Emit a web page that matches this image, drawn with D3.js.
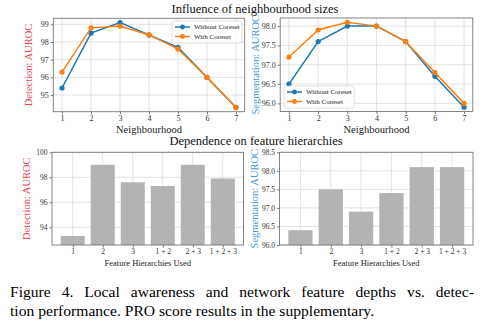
<!DOCTYPE html>
<html><head><meta charset="utf-8">
<script src="https://cdn.jsdelivr.net/npm/d3@7"></script>
<style>body{margin:0;background:#fff}svg{display:block}text{font-family:"Liberation Serif","DejaVu Serif",serif}</style>
</head><body><svg id="c" width="498" height="334"></svg>
<script>
const neighbourhoods = [1,2,3,4,5,6,7];
const detWithout = [95.4,98.5,99.1,98.4,97.7,96.0,94.3];
const detWith    = [96.3,98.8,98.9,98.4,97.6,96.0,94.3];
const segWithout = [96.5,97.6,98.0,98.0,97.6,96.7,95.9];
const segWith    = [97.2,97.9,98.1,98.0,97.6,96.8,96.0];
const hierarchies = ["1","2","3","1 + 2","2 + 3","1 + 2 + 3"];
const detBars = [93.3,99.0,97.6,97.3,99.0,97.9];
const segBars = [96.4,97.5,96.9,97.4,98.1,98.1];
const detLineTicks = [95,96,97,98,99];
const segLineTicks = [96.0,96.5,97.0,97.5,98.0];
const detBarTicks = [94,96,98,100];
const segBarTicks = [96.0,96.5,97.0,97.5,98.0,98.5];
const seriesNames = ["Without Coreset","With Coreset"];

const BLUE="#1f77b4", ORANGE="#ff7f0e", RED="#e8474f", LBLUE="#4a98d3";
const svg = d3.select("#c");

function frame(g, x, y, xt, yt){
  const [x0,x1]=x.range(), [y1,y0]=y.range();
  g.selectAll(".gx").data(xt).join("line").attr("x1",d=>x(d)).attr("x2",d=>x(d)).attr("y1",y0).attr("y2",y1).attr("stroke","#dcdcdc").attr("stroke-width",0.8);
  g.selectAll(".gy").data(yt).join("line").attr("y1",d=>y(d)).attr("y2",d=>y(d)).attr("x1",x0).attr("x2",x1).attr("stroke","#dcdcdc").attr("stroke-width",0.8);
}
function axes(g, x, y, xt, yt, fmtY, xLabels, fs){
  const [x0,x1]=x.range(), [y1,y0]=y.range();
  g.append("rect").attr("x",x0).attr("y",y0).attr("width",x1-x0).attr("height",y1-y0).attr("fill","none").attr("stroke","#777").attr("stroke-width",0.9);
  const ax = d3.axisBottom(x).tickValues(xt).tickSize(2.5).tickPadding(1.5).tickSizeOuter(0).tickFormat((d,i)=>xLabels?xLabels[i]:d);
  const gx = g.append("g").attr("transform",`translate(0,${y1})`).call(ax);
  const ay = d3.axisLeft(y).tickValues(yt).tickSize(2.5).tickPadding(2).tickSizeOuter(0).tickFormat(fmtY);
  const gy = g.append("g").attr("transform",`translate(${x0},0)`).call(ay);
  [gx,gy].forEach(a=>{a.select(".domain").remove();a.selectAll("line").attr("stroke","#777");a.selectAll("text").attr("fill","#333").style("font-size",fs+"px").style("font-family","Liberation Serif, serif");});
}

function lineChart(left,right,top,bottom,aW,aWi,ticks,fmt,ylabel,ycol,legendPos){
  const g = svg.append("g");
  const x = d3.scaleLinear().domain([0.7,7.3]).range([left,right]);
  const all = aW.concat(aWi); const mn=d3.min(all), mx=d3.max(all), m=(mx-mn)*0.05;
  const y = d3.scaleLinear().domain([mn-m,mx+m]).range([bottom,top]);
  frame(g,x,y,neighbourhoods,ticks);
  [[aW,BLUE],[aWi,ORANGE]].forEach(([vals,c])=>{
    const line=d3.line().x((d,i)=>x(neighbourhoods[i])).y(d=>y(d));
    g.append("path").attr("d",line(vals)).attr("fill","none").attr("stroke",c).attr("stroke-width",1.5);
    g.selectAll(null).data(vals).join("circle").attr("cx",(d,i)=>x(neighbourhoods[i])).attr("cy",d=>y(d)).attr("r",2.6).attr("fill",c);
  });
  axes(g,x,y,neighbourhoods,ticks,fmt,null,8);
  g.append("text").attr("x",(left+right)/2).attr("y",bottom+21).attr("text-anchor","middle").style("font-size","10.5px").attr("fill","#222").text("Neighbourhood");
  g.append("text").attr("transform",`translate(${left-21},${(top+bottom)/2}) rotate(-90)`).attr("text-anchor","middle").style("font-size","10.5px").attr("fill",ycol).text(ylabel);
  const [lx,ly]=legendPos;
  const lg=g.append("g").attr("transform",`translate(${lx},${ly})`);
  lg.append("rect").attr("width",70).attr("height",22).attr("rx",2).attr("fill","#fff").attr("fill-opacity",0.85).attr("stroke","#ccc").attr("stroke-width",0.6);
  seriesNames.forEach((n,i)=>{
    const c=i?ORANGE:BLUE, yy=6+i*9.5;
    lg.append("line").attr("x1",3).attr("x2",18).attr("y1",yy).attr("y2",yy).attr("stroke",c).attr("stroke-width",1.5);
    lg.append("circle").attr("cx",10.5).attr("cy",yy).attr("r",2.4).attr("fill",c);
    lg.append("text").attr("x",22).attr("y",yy).attr("dy","0.33em").style("font-size","7px").attr("fill","#222").text(n);
  });
}

function barChart(left,right,top,bottom,vals,dom,ticks,fmt,ylabel,ycol){
  const g = svg.append("g");
  const idx = hierarchies.map((d,i)=>i);
  const x = d3.scaleLinear().domain([-0.69,5.69]).range([left,right]);
  const y = d3.scaleLinear().domain(dom).range([bottom,top]);
  frame(g,x,y,idx,ticks);
  g.selectAll(null).data(vals).join("rect").attr("x",(d,i)=>x(i-0.4)).attr("width",x(0.4)-x(-0.4)).attr("y",d=>y(d)).attr("height",d=>bottom-y(d)).attr("fill","#b3b3b3");
  axes(g,x,y,idx,ticks,fmt,hierarchies,7.5);
  g.append("text").attr("x",(left+right)/2).attr("y",bottom+21).attr("text-anchor","middle").style("font-size","8.5px").attr("fill","#222").text("Feature Hierarchies Used");
  g.append("text").attr("transform",`translate(${left-22},${(top+bottom)/2}) rotate(-90)`).attr("text-anchor","middle").style("font-size","10.5px").attr("fill",ycol).text(ylabel);
}

lineChart(53.3,244.7,18.3,111.7,detWithout,detWith,detLineTicks,d3.format("d"),"Detection: AUROC",RED,[172,21]);
lineChart(280.2,472.8,18,111.5,segWithout,segWith,segLineTicks,d3.format(".1f"),"Segmentation: AUROC",LBLUE,[284,86]);
barChart(52,243.5,152.3,245,detBars,[92.58,100],detBarTicks,d3.format("d"),"Detection: AUROC",RED);
barChart(279.5,473,152.3,245,segBars,[96.0,98.5],segBarTicks,d3.format(".1f"),"Segmentation: AUROC",LBLUE);

svg.append("text").attr("x",255).attr("y",12.5).attr("text-anchor","middle").style("font-size","12.5px").attr("fill","#111").text("Influence of neighbourhood sizes");
svg.append("text").attr("x",256).attr("y",144.5).attr("text-anchor","middle").style("font-size","12.5px").attr("fill","#111").text("Dependence on feature hierarchies");

const cap1 = svg.append("text").attr("x",10).attr("y",297).style("font-size","15.6px").attr("fill","#000").text("Figure 4.  Local awareness and network feature depths vs.  detec-");
const w = cap1.node().getComputedTextLength();
const nSpaces = cap1.text().split(" ").length-1;
cap1.attr("word-spacing", Math.max(0,(478-w)/nSpaces).toFixed(2));
svg.append("text").attr("x",10).attr("y",316).style("font-size","15.6px").attr("fill","#000").text("tion performance. PRO score results in the supplementary.");
</script></body></html>
